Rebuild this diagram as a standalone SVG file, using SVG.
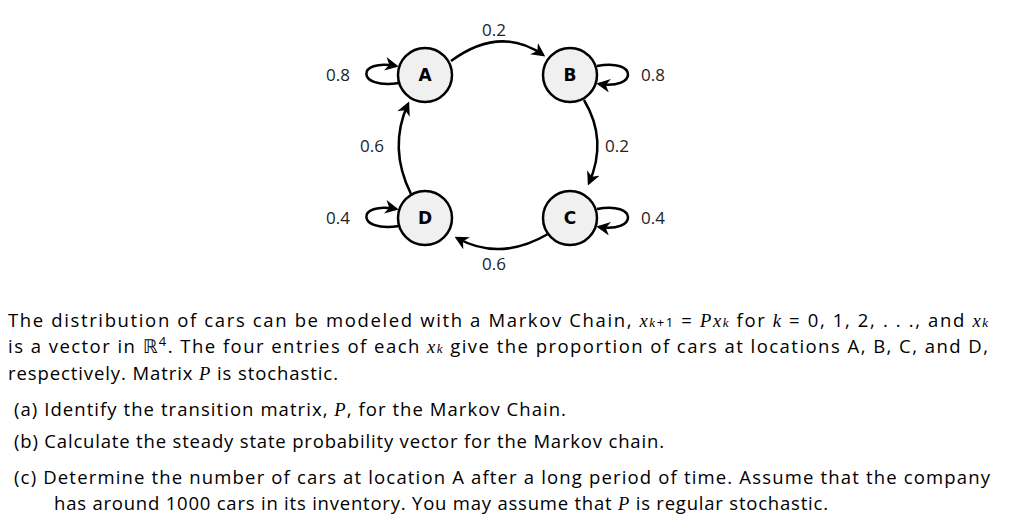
<svg xmlns="http://www.w3.org/2000/svg" width="1036" height="528" viewBox="0 0 1036 528">
<style>
.n{fill:#f0f0f0;stroke:#000;stroke-width:2.5}
.nl{font-family:"DejaVu Sans",sans-serif;font-weight:bold;font-size:17px;text-anchor:middle}
.e{fill:none;stroke:#000;stroke-width:2.5;marker-end:url(#ah)}
.el{font-family:"Open Sans","DejaVu Sans",sans-serif;font-size:17px;fill:#222}
.t{font-family:"Open Sans","DejaVu Sans",sans-serif;font-size:18.5px;fill:#000}
.m{font-family:"Liberation Serif",serif;font-style:italic}
</style>
<defs><marker id="ah" viewBox="0 0 10 10" refX="8" refY="5" markerWidth="5.5" markerHeight="5.5" orient="auto"><path d="M0 0 L10 5 L0 10 L3 5 Z" fill="#000"/></marker></defs>
<rect width="1036" height="528" fill="#fff"/>
<g id="connectors">
<path class="e" d="M451 61 Q500 25 543 55"/>
<path class="e" d="M584 100 Q608 140 589 183"/>
<path class="e" d="M548 234 Q500 262 457 238"/>
<path class="e" d="M411 194 Q388 148 408 104"/>
<path class="e" d="M399 83 C356 90 356 58 396 66"/>
<path class="e" d="M399 226 C356 233 356 201 396 209"/>
<path class="e" d="M597 66 C638 58 638 90 599 84"/>
<path class="e" d="M597 209 C638 201 638 233 599 227"/>
<text class="el" x="482" y="36">0.2</text>
<text class="el" x="326" y="81">0.8</text>
<text class="el" x="641" y="81">0.8</text>
<text class="el" x="360" y="152">0.6</text>
<text class="el" x="605" y="152">0.2</text>
<text class="el" x="326" y="224">0.4</text>
<text class="el" x="641" y="224">0.4</text>
<text class="el" x="482" y="270">0.6</text>
</g>
<g id="A"><circle class="n" cx="425" cy="75" r="27"/><text class="nl" x="425" y="81">A</text></g>
<g id="B"><circle class="n" cx="570" cy="75" r="27"/><text class="nl" x="570" y="81">B</text></g>
<g id="C"><circle class="n" cx="570" cy="218" r="27"/><text class="nl" x="570" y="224">C</text></g>
<g id="D"><circle class="n" cx="425" cy="218" r="27"/><text class="nl" x="425" y="224">D</text></g>
<text class="t" x="8" y="327" textLength="980">The distribution of cars can be modeled with a Markov Chain, <tspan class="m">x</tspan><tspan font-size="13" class="m">k</tspan><tspan font-size="13">+1</tspan> = <tspan class="m">Px</tspan><tspan font-size="13" class="m">k</tspan> for <tspan class="m">k</tspan> = 0, 1, 2, . . ., and <tspan class="m">x</tspan><tspan font-size="13" class="m">k</tspan></text>
<text class="t" x="8" y="353" textLength="980">is a vector in ℝ<tspan font-size="13" dy="-7">4</tspan><tspan dy="7">.  The four entries of each </tspan><tspan class="m">x</tspan><tspan font-size="13" class="m">k</tspan> give the proportion of cars at locations A, B, C, and D,</text>
<text class="t" x="8" y="380" textLength="330">respectively. Matrix <tspan class="m">P</tspan> is stochastic.</text>
<text class="t" x="14" y="416" textLength="552">(a)  Identify the transition matrix, <tspan class="m">P</tspan>, for the Markov Chain.</text>
<text class="t" x="14" y="448" textLength="650">(b)  Calculate the steady state probability vector for the Markov chain.</text>
<text class="t" x="14" y="484" textLength="976">(c)  Determine the number of cars at location A after a long period of time.  Assume that the company</text>
<text class="t" x="54" y="510" textLength="774">has around 1000 cars in its inventory.  You may assume that <tspan class="m">P</tspan> is regular stochastic.</text>
</svg>
